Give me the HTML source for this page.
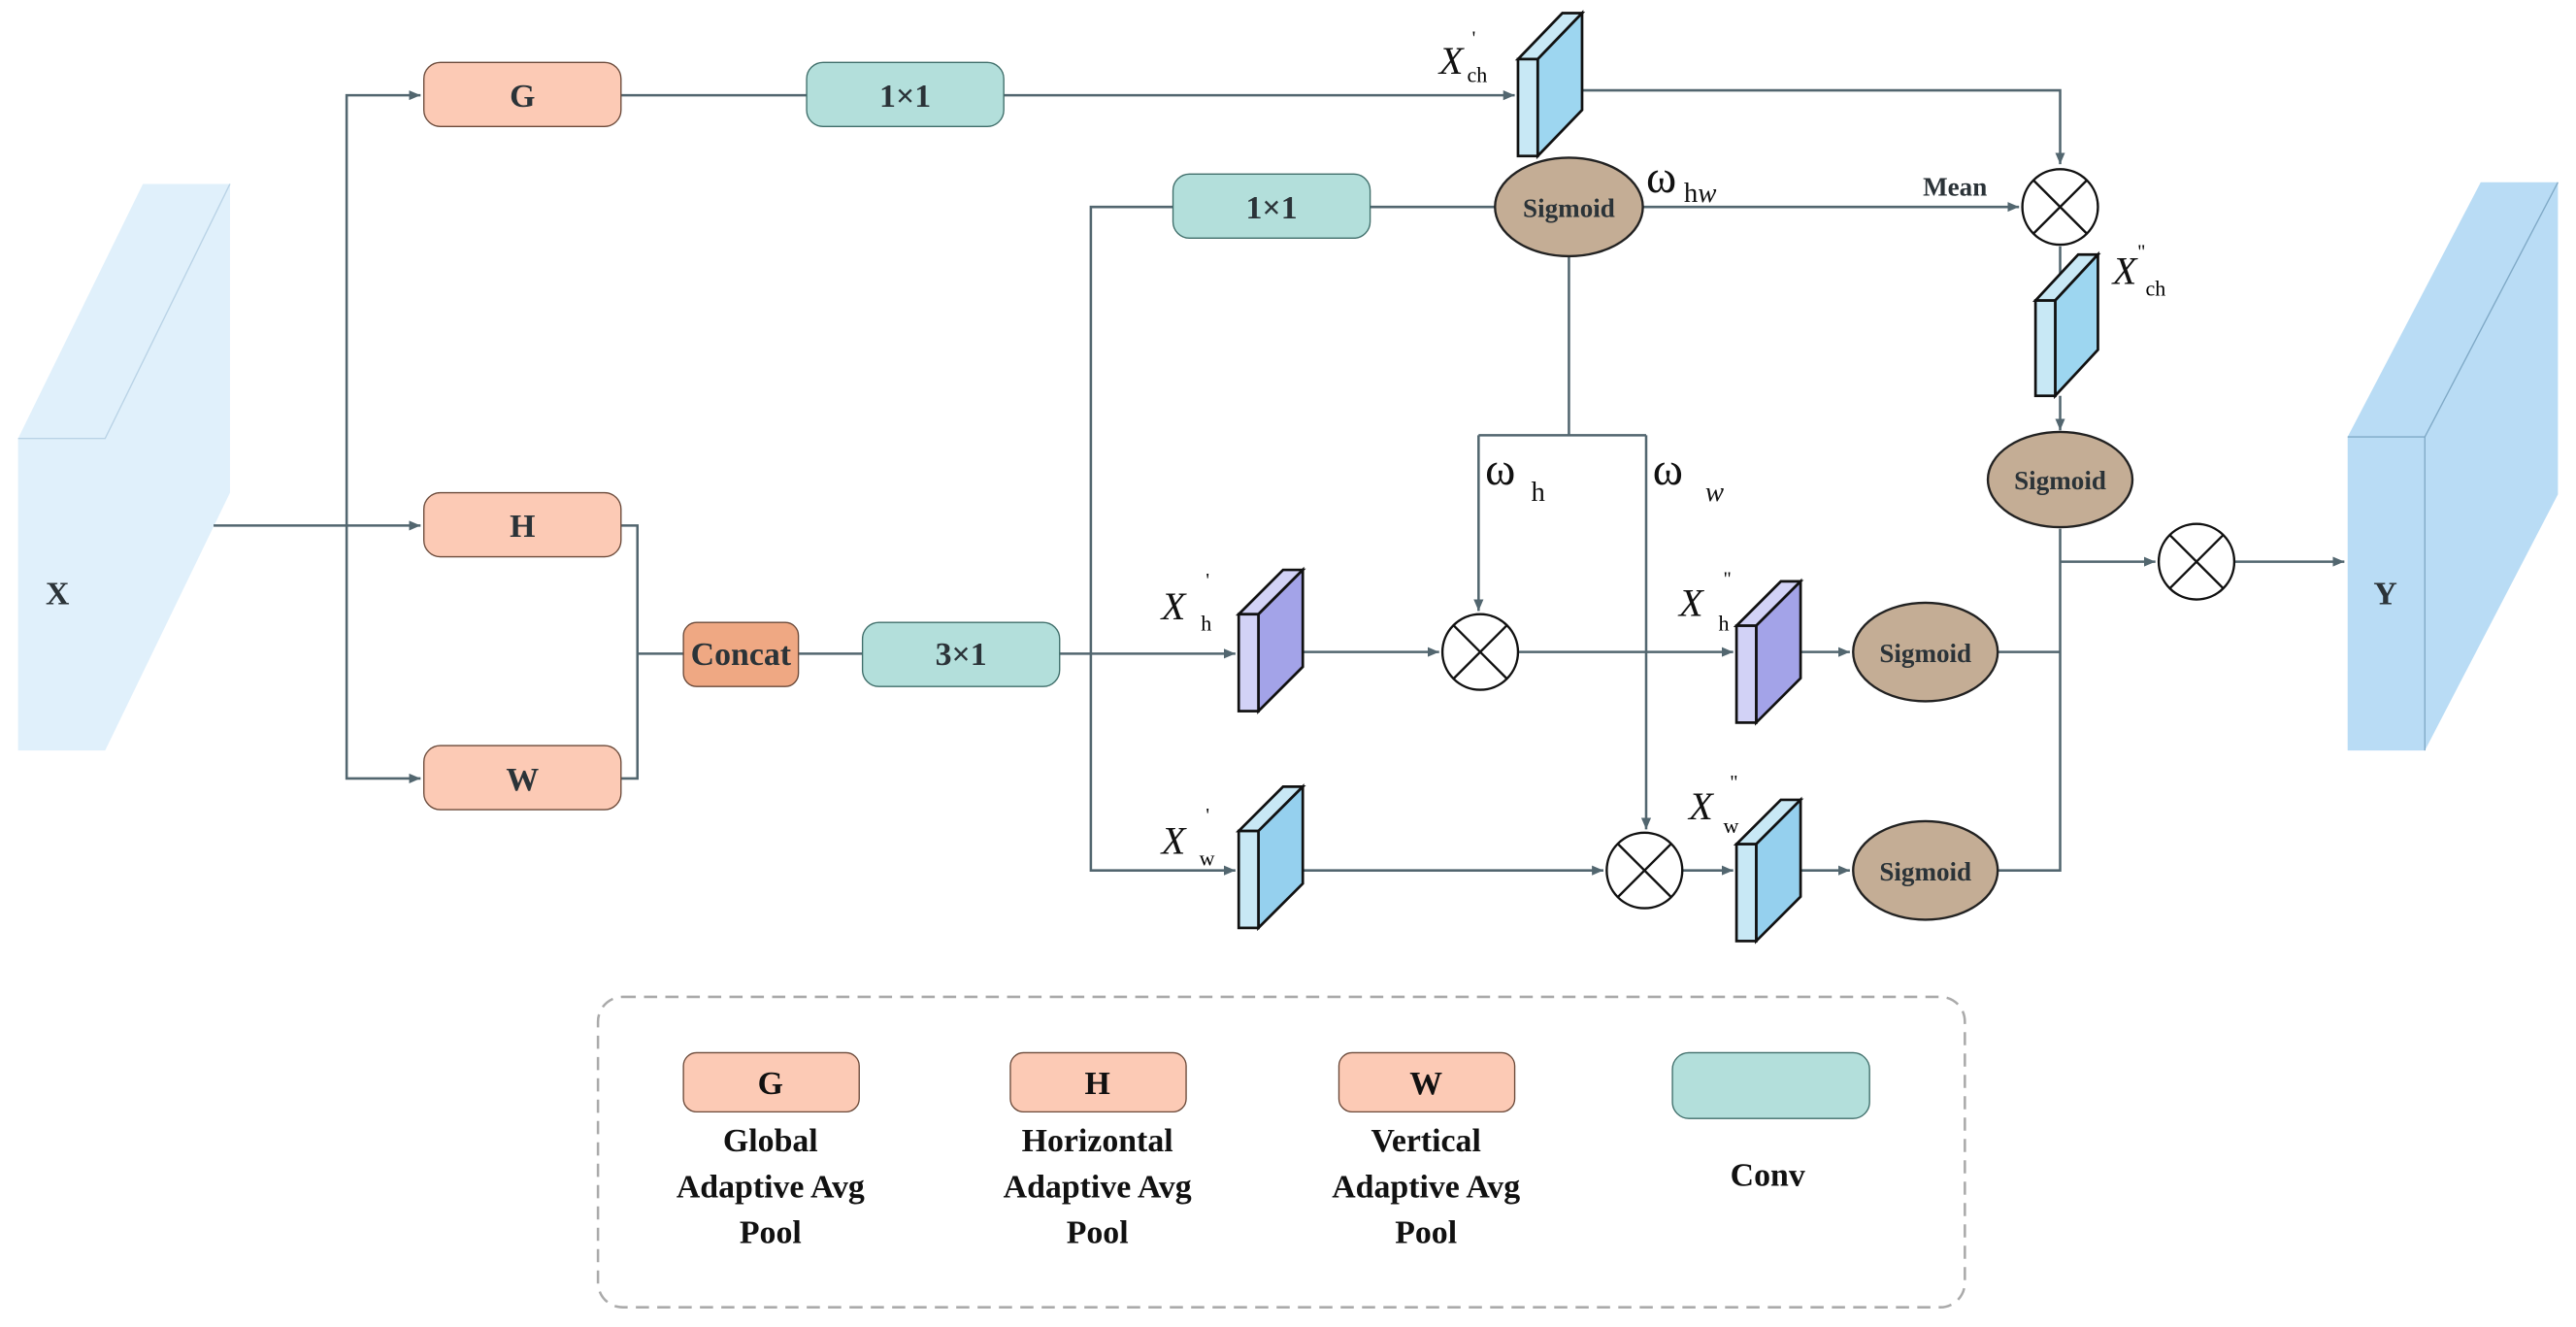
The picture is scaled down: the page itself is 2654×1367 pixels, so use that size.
<!DOCTYPE html>
<html><head><meta charset="utf-8"><style>
html,body{margin:0;padding:0;background:#fff;}
svg{display:block;}
text{font-family:"Liberation Serif",serif;}
.b{font-weight:bold;fill:#2b3338;}
.l{stroke:#52666f;stroke-width:1.5;fill:none;}
.i{font-style:italic;fill:#111;}
</style></head><body>
<svg width="2654" height="1367" viewBox="0 0 1568 808" preserveAspectRatio="none" xmlns="http://www.w3.org/2000/svg">
<defs>
<marker id="a" markerWidth="8" markerHeight="8" refX="7" refY="4" orient="auto" markerUnits="userSpaceOnUse">
<path d="M0,1 L7,4 L0,7 z" fill="#52666f"/></marker>
</defs>
<!-- X block -->
<polygon points="11,267 87,112 140,112 140,300 64,457 11,457" fill="#e0f0fb"/>
<polyline points="11,267 64,267 140,112" fill="none" stroke="#b9d3e6" stroke-width="0.8"/>
<text x="35" y="368" class="b" font-size="20" text-anchor="middle">X</text>
<!-- Y block -->
<polygon points="1429,266 1510,111 1557,111 1557,301 1476,457 1429,457" fill="#b9dcf5"/>
<polyline points="1429,266 1476,266 1557,111" fill="none" stroke="#7fa9c6" stroke-width="0.8"/>
<line x1="1476" y1="266" x2="1476" y2="457" stroke="#7fa9c6" stroke-width="0.8"/>
<text x="1452" y="368" class="b" font-size="20" text-anchor="middle">Y</text>

<!-- connectors -->
<path class="l" d="M130,320 H256" marker-end="url(#a)"/>
<path class="l" d="M211,320 V58 H256" marker-end="url(#a)"/>
<path class="l" d="M211,320 V474 H256" marker-end="url(#a)"/>
<path class="l" d="M378,320 H388 V474 H378 M388,398 H416"/>
<path class="l" d="M486,398 H525"/>
<path class="l" d="M378,58 H491 M611,58 H922" marker-end="url(#a)"/>
<path class="l" d="M645,398 H752" marker-end="url(#a)"/>
<path class="l" d="M714,126 H664 V530 H752" marker-end="url(#a)"/>
<path class="l" d="M834,126 H910"/>
<path class="l" d="M963,55 H1254 V100" marker-end="url(#a)"/>
<path class="l" d="M1000,126 H1229" marker-end="url(#a)"/>
<path class="l" d="M1254,150 V181" marker-end="url(#a)"/>
<path class="l" d="M1254,241 V262" marker-end="url(#a)"/>
<path class="l" d="M955,156 V265 M900,265 H1002"/>
<path class="l" d="M900,265 V372" marker-end="url(#a)"/>
<path class="l" d="M1002,265 V505" marker-end="url(#a)"/>
<path class="l" d="M793,397 H876" marker-end="url(#a)"/>
<path class="l" d="M924,397 H1055" marker-end="url(#a)"/>
<path class="l" d="M793,530 H976" marker-end="url(#a)"/>
<path class="l" d="M1024,530 H1055" marker-end="url(#a)"/>
<path class="l" d="M1096,397 H1126" marker-end="url(#a)"/>
<path class="l" d="M1096,530 H1126" marker-end="url(#a)"/>
<path class="l" d="M1216,397 H1254 M1216,530 H1254 V322 M1254,342 H1312" marker-end="url(#a)"/>
<path class="l" d="M1360,342 H1427" marker-end="url(#a)"/>

<!-- boxes -->
<g stroke="#6b4a3a" stroke-width="0.8">
<rect x="258" y="38" width="120" height="39" rx="10" fill="#fccab5"/>
<rect x="258" y="300" width="120" height="39" rx="10" fill="#fccab5"/>
<rect x="258" y="454" width="120" height="39" rx="10" fill="#fccab5"/>
<rect x="416" y="379" width="70" height="39" rx="8" fill="#efa883"/>
</g>
<g stroke="#3f6e6a" stroke-width="0.8" fill="#b3dfdb">
<rect x="491" y="38" width="120" height="39" rx="10"/>
<rect x="714" y="106" width="120" height="39" rx="10"/>
<rect x="525" y="379" width="120" height="39" rx="10"/>
</g>
<g class="b" font-size="20" text-anchor="middle">
<text x="318" y="65">G</text><text x="318" y="327">H</text><text x="318" y="481">W</text>
<text x="551" y="65">1×1</text><text x="774" y="133">1×1</text><text x="585" y="405">3×1</text>
<text x="451" y="405">Concat</text>
</g>

<!-- feature blocks -->
<g stroke="#111" stroke-width="1.6">
<polygon points="924,36 951,8 963,8 936,36" fill="#c8e8f5"/>
<polygon points="936,36 963,8 963,67 936,95" fill="#9dd6f0"/>
<rect x="924" y="36" width="12" height="59" fill="#c8e8f5"/>
<polygon points="1239,183 1265,155 1277,155 1251,183" fill="#c8e8f5"/>
<polygon points="1251,183 1277,155 1277,213 1251,241" fill="#9dd6f0"/>
<rect x="1239" y="183" width="12" height="58" fill="#c8e8f5"/>
<polygon points="754,374 781,347 793,347 766,374" fill="#d2d2f6"/>
<polygon points="766,374 793,347 793,406 766,433" fill="#a3a3e8"/>
<rect x="754" y="374" width="12" height="59" fill="#d2d2f6"/>
<polygon points="754,506 781,479 793,479 766,506" fill="#c8e8f5"/>
<polygon points="766,506 793,479 793,538 766,565" fill="#95d0ee"/>
<rect x="754" y="506" width="12" height="59" fill="#c8e8f5"/>
<polygon points="1057,381 1084,354 1096,354 1069,381" fill="#d2d2f6"/>
<polygon points="1069,381 1096,354 1096,413 1069,440" fill="#a3a3e8"/>
<rect x="1057" y="381" width="12" height="59" fill="#d2d2f6"/>
<polygon points="1057,514 1084,487 1096,487 1069,514" fill="#c8e8f5"/>
<polygon points="1069,514 1096,487 1096,546 1069,573" fill="#95d0ee"/>
<rect x="1057" y="514" width="12" height="59" fill="#c8e8f5"/>
</g>

<!-- sigmoids -->
<g fill="#c4ad95" stroke="#222" stroke-width="1.4">
<ellipse cx="955" cy="126" rx="45" ry="30"/>
<ellipse cx="1254" cy="292" rx="44" ry="29"/>
<ellipse cx="1172" cy="397" rx="44" ry="30"/>
<ellipse cx="1172" cy="530" rx="44" ry="30"/>
</g>
<g class="b" font-size="16" text-anchor="middle">
<text x="955" y="132">Sigmoid</text><text x="1254" y="298">Sigmoid</text>
<text x="1172" y="403">Sigmoid</text><text x="1172" y="536">Sigmoid</text>
</g>

<!-- otimes -->
<g fill="#fff" stroke="#111" stroke-width="1.4">
<g transform="translate(1254,126)"><circle r="23"/><path d="M-16,-16 L16,16 M16,-16 L-16,16"/></g>
<g transform="translate(1337,342)"><circle r="23"/><path d="M-16,-16 L16,16 M16,-16 L-16,16"/></g>
<g transform="translate(901,397)"><circle r="23"/><path d="M-16,-16 L16,16 M16,-16 L-16,16"/></g>
<g transform="translate(1001,530)"><circle r="23"/><path d="M-16,-16 L16,16 M16,-16 L-16,16"/></g>
</g>

<!-- labels -->
<text x="1190" y="119" class="b" font-size="16" text-anchor="middle">Mean</text>
<text x="1002" y="117" font-size="28" fill="#111">ω</text><text x="1025" y="123" font-size="17" fill="#111">h<tspan font-style="italic">w</tspan></text>
<text x="904" y="295" font-size="28" fill="#111">ω</text><text x="932" y="305" font-size="17" fill="#111">h</text>
<text x="1006" y="295" font-size="28" fill="#111">ω</text><text x="1038" y="305" font-size="17" class="i">w</text>

<text x="876" y="45" class="i" font-size="24">X</text><text x="896" y="27" font-size="12">'</text><text x="893" y="50" font-size="13">ch</text>
<text x="1286" y="173" class="i" font-size="24">X</text><text x="1301" y="157" font-size="12">"</text><text x="1306" y="180" font-size="13">ch</text>
<text x="707" y="377" class="i" font-size="24">X</text><text x="734" y="357" font-size="12">'</text><text x="731" y="384" font-size="13">h</text>
<text x="707" y="520" class="i" font-size="24">X</text><text x="734" y="500" font-size="12">'</text><text x="730" y="527" font-size="13">w</text>
<text x="1022" y="375" class="i" font-size="24">X</text><text x="1049" y="356" font-size="12">"</text><text x="1046" y="384" font-size="13">h</text>
<text x="1028" y="499" class="i" font-size="24">X</text><text x="1053" y="480" font-size="12">"</text><text x="1049" y="507" font-size="13">w</text>

<!-- legend -->
<rect x="364" y="607" width="832" height="189" rx="15" fill="none" stroke="#aaa" stroke-width="1.5" stroke-dasharray="8,5"/>
<g stroke="#6b4a3a" stroke-width="0.8" fill="#fccab5">
<rect x="416" y="641" width="107" height="36" rx="8"/>
<rect x="615" y="641" width="107" height="36" rx="8"/>
<rect x="815" y="641" width="107" height="36" rx="8"/>
</g>
<rect x="1018" y="641" width="120" height="40" rx="10" fill="#b3dfdb" stroke="#3f6e6a" stroke-width="0.8"/>
<g class="b" font-size="20" text-anchor="middle" style="fill:#111">
<text x="469" y="666">G</text><text x="668" y="666">H</text><text x="868" y="666">W</text>
<text x="469" y="701">Global</text><text x="469" y="729">Adaptive Avg</text><text x="469" y="757">Pool</text>
<text x="668" y="701">Horizontal</text><text x="668" y="729">Adaptive Avg</text><text x="668" y="757">Pool</text>
<text x="868" y="701">Vertical</text><text x="868" y="729">Adaptive Avg</text><text x="868" y="757">Pool</text>
<text x="1076" y="722">Conv</text>
</g>
</svg>
</body></html>
